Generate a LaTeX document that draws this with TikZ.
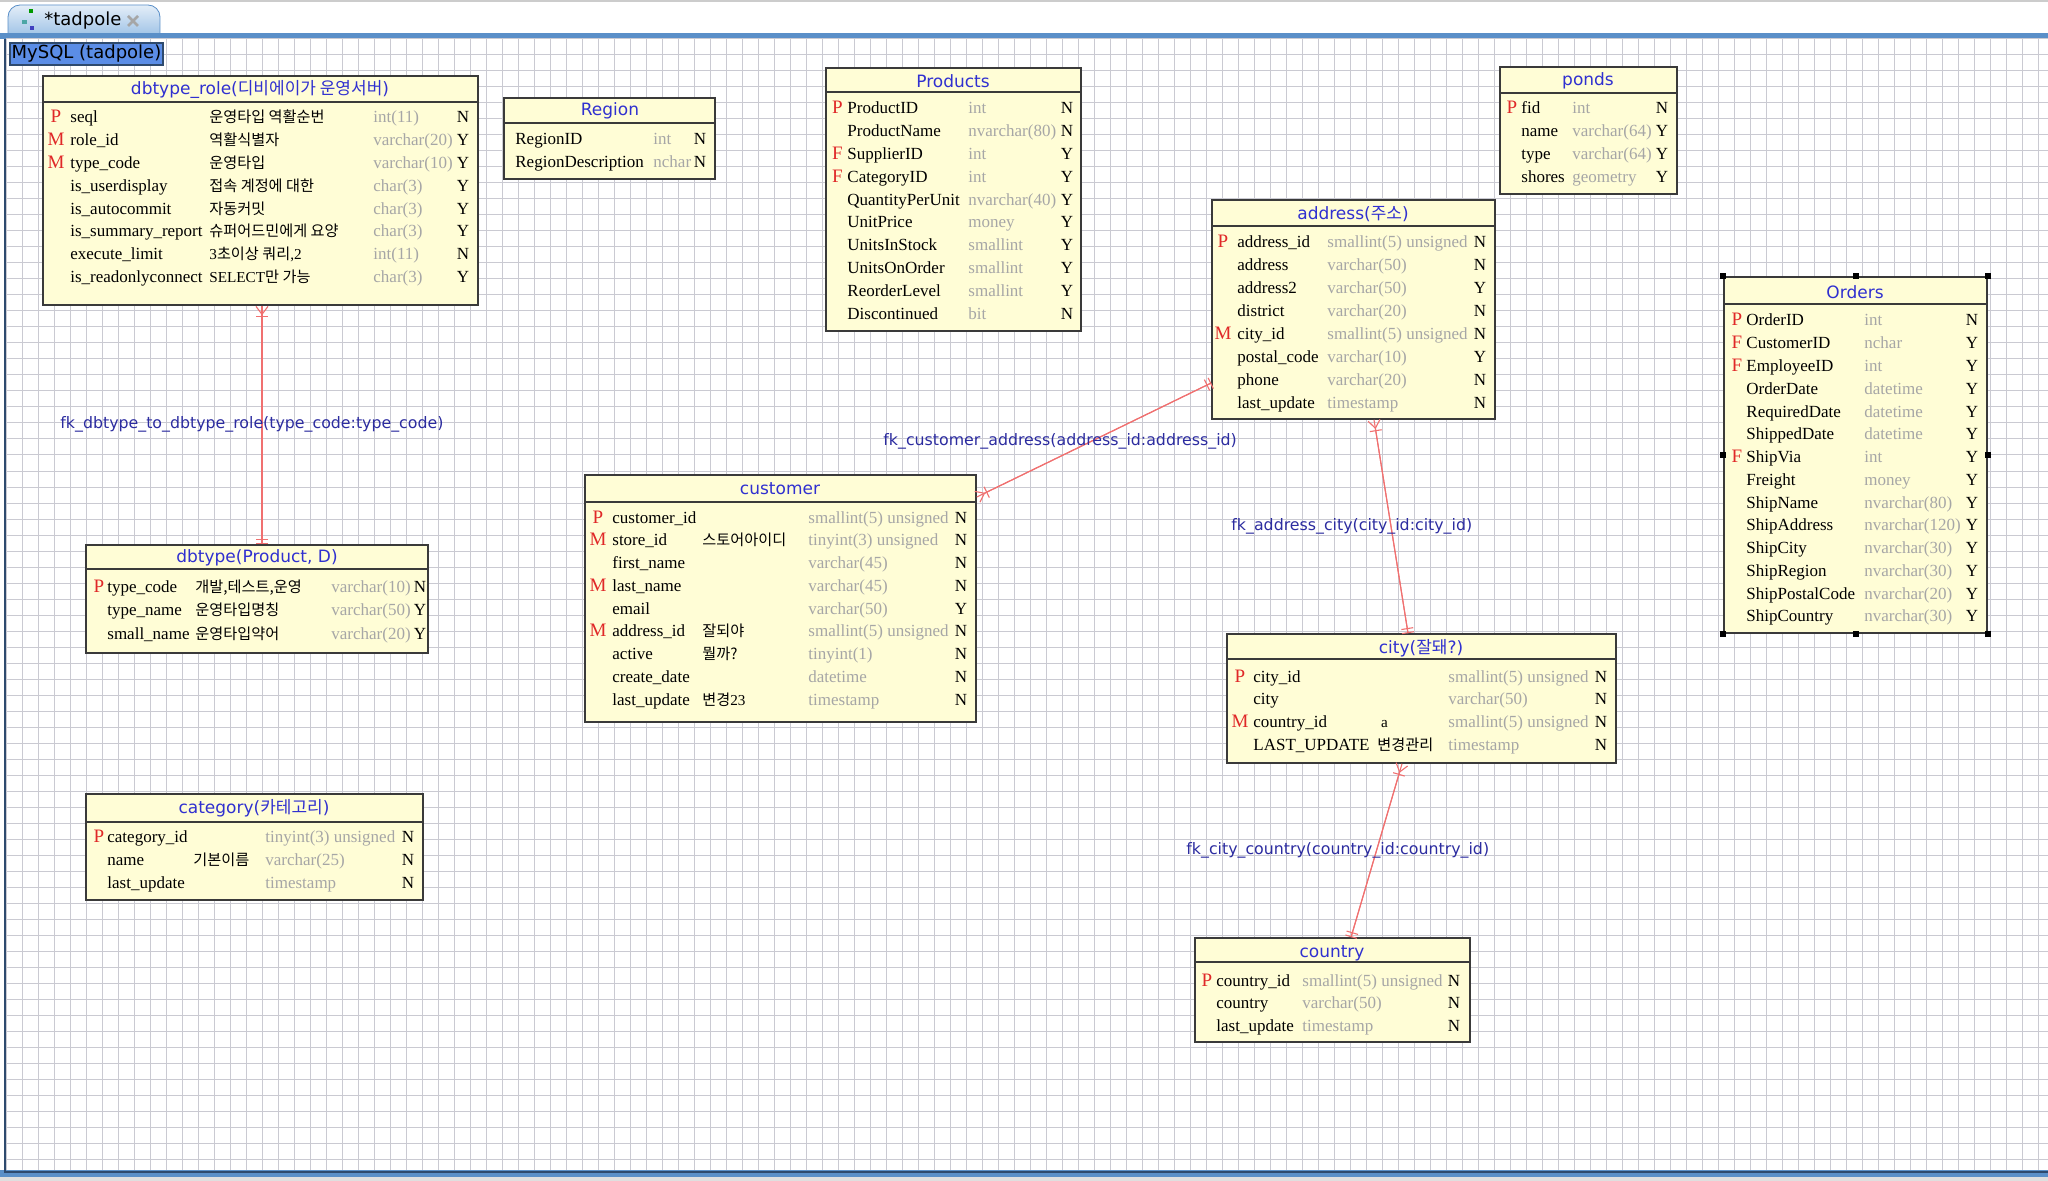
\documentclass[tikz,border=0pt]{standalone}
\usepackage{fontspec}
\setmainfont{Liberation Serif}
\setsansfont{DejaVu Sans}
\newfontfamily\kr{Noto Sans CJK KR}
\usetikzlibrary{arrows.meta,calc,fit,positioning}

\definecolor{boxfill}{HTML}{FFFDD6}
\definecolor{boxline}{HTML}{3A3A3A}
\definecolor{titleblue}{HTML}{3030D0}
\definecolor{keyred}{HTML}{E02828}
\definecolor{typegray}{HTML}{A6A6A6}
\definecolor{fkred}{HTML}{F07070}
\definecolor{fkblue}{HTML}{2C2CA0}
\definecolor{gridline}{HTML}{CACAD2}
\definecolor{tabtop}{HTML}{E4EEF8}
\definecolor{tabbot}{HTML}{9EC2E6}
\definecolor{barblue}{HTML}{5A8FC8}
\definecolor{framedark}{HTML}{2E4A6E}
\definecolor{dbblue}{HTML}{5B8DE6}

\tikzset{
  erbox/.style={draw=boxline,fill=boxfill,line width=0.8pt,inner sep=0pt},
  ertitle/.style={font=\sffamily\fontsize{8.5}{10}\selectfont,text=titleblue,inner sep=0pt},
  keymark/.style={anchor=base,font=\fontsize{9.5}{10}\selectfont,text=keyred,inner sep=0pt},
  fieldname/.style={anchor=base west,font=\fontsize{8.5}{10}\selectfont,inner sep=0pt},
  fieldnote/.style={anchor=base west,font=\kr\fontsize{7.6}{10}\selectfont,inner sep=0pt},
  fieldtype/.style={anchor=base west,font=\fontsize{8.5}{10}\selectfont,text=typegray,inner sep=0pt},
  fieldnull/.style={anchor=base,font=\fontsize{8.5}{10}\selectfont,inner sep=0pt},
  fk/.style={draw=fkred,line width=0.55pt,preaction={draw=fkred,line width=0.55pt,-}},
  fklabel/.style={anchor=west,font=\sffamily\fontsize{7.9}{10}\selectfont,text=fkblue,inner sep=0pt},
  handle/.style={fill=black,minimum size=3pt,inner sep=0pt},
  crowfoot/.tip={Bar[width=6pt,sep=0.5pt] Straight Barb[reversed,length=4pt,width=6pt]},
  onlyone/.tip={Bar[width=6pt,sep=1.5pt] Bar[width=6pt]}
}

% rows of a table: prefix, first y, row step, x of key, name, note, type, null, list
\newcommand{\errows}[9]{%
  \foreach \keyx/\namex/\notex/\typex/\nullx [count=\rowi] in {#9}{%
    \pgfmathsetmacro{\yy}{#2+(\rowi-1)*#3+5}
    \node[keymark]   (#1-k\rowi) at (#4,\yy) {\keyx};
    \node[fieldname] (#1-n\rowi) at (#5,\yy) {\namex};
    \node[fieldnote] (#1-c\rowi) at (#6,\yy) {\notex};
    \node[fieldtype] (#1-t\rowi) at (#7,\yy) {\typex};
    \node[fieldnull] (#1-u\rowi) at (#8,\yy) {\nullx};
  }}

\begin{document}
\begin{tikzpicture}[x=0.5pt,y=-0.5pt]
  \useasboundingbox (0,0) rectangle (2048,1181);
  % window
  \fill[white] (0,0) rectangle (2048,1181);
  \draw[gray!40,line width=1pt] (0,1) -- (2048,1);
  \shade[top color=tabtop,bottom color=tabbot,draw=barblue]
    (8,36) [rounded corners=6pt] -- (8,5) -- (160,5) [sharp corners] -- (160,36) -- cycle;
  \fill[green!60!black] (29,9) rectangle (33,13);
  \fill[teal!70] (22,20) rectangle (27,24);
  \fill[blue!50!gray] (30,26) rectangle (34,30);
  \node[font=\sffamily\fontsize{9}{10}\selectfont,anchor=west,inner sep=0pt] (tabname) at (44,21) {*tadpole};
  \draw[gray!70,line width=1.3pt] (128,16) -- (138,26) (128,26) -- (138,16);
  \fill[barblue] (0,33) rectangle (2048,39);
  \fill[gray!25] (0,1173) rectangle (2048,1181);
  \fill[barblue] (0,1170) rectangle (2048,1177);
  % canvas grid
  \fill[white] (6,39) rectangle (2048,1170);
  \foreach \gx in {6,22,...,2048} \draw[gridline,line width=0.5pt] (\gx,39) -- (\gx,1170);
  \foreach \gy in {39,55,...,1170} \draw[gridline,line width=0.5pt] (6,\gy) -- (2048,\gy);
  \draw[framedark,line width=1.2pt] (5,39) -- (5,1172) -- (2048,1172);
  \node[draw=framedark,fill=dbblue,line width=0.8pt,inner sep=0pt,fit={(10,43) (163,65)},
    label={[font=\sffamily\fontsize{9}{10}\selectfont,inner sep=0pt]center:MySQL (tadpole)}] (dbname) {};

  % dbtype_role
  \node[erbox,fit={(43,76) (478,305)}] (role) {};
  \draw[boxline,line width=0.8pt] (role.west |- 0,102) -- (role.east |- 0,102);
  \node[ertitle] (role-title) at (260,89) {dbtype\_role({\kr 디비에이가 운영서버})};
  \errows{role}{118}{22.8}{56}{70}{209}{373}{463}{%
    P/seql/운영타입 역활순번/int(11)/N,
    M/role\_id/역활식별자/varchar(20)/Y,
    M/type\_code/운영타입/varchar(10)/Y,
    {}/is\_userdisplay/접속 계정에 대한/char(3)/Y,
    {}/is\_autocommit/자동커밋/char(3)/Y,
    {}/is\_summary\_report/슈퍼어드민에게 요양/char(3)/Y,
    {}/execute\_limit/{\rmfamily 3}초이상 쿼리{\rmfamily ,2}/int(11)/N,
    {}/is\_readonlyconnect/{\rmfamily SELECT}만 가능/char(3)/Y}

  % Region
  \node[erbox,fit={(504,98) (715,179)}] (region) {};
  \draw[boxline,line width=0.8pt] (region.west |- 0,123) -- (region.east |- 0,123);
  \node[ertitle] (region-title) at (610,111) {Region};
  \errows{region}{140}{23}{510}{515}{600}{653}{700}{%
    {}/RegionID/{}/int/N,
    {}/RegionDescription/{}/nchar/N}

  % Products
  \node[erbox,fit={(826,68) (1081,331)}] (products) {};
  \draw[boxline,line width=0.8pt] (products.west |- 0,92) -- (products.east |- 0,92);
  \node[ertitle] (products-title) at (953,81) {Products};
  \errows{products}{109}{22.8}{837.5}{847}{950}{968}{1067}{%
    P/ProductID/{}/int/N,
    {}/ProductName/{}/nvarchar(80)/N,
    F/SupplierID/{}/int/Y,
    F/CategoryID/{}/int/Y,
    {}/QuantityPerUnit/{}/nvarchar(40)/Y,
    {}/UnitPrice/{}/money/Y,
    {}/UnitsInStock/{}/smallint/Y,
    {}/UnitsOnOrder/{}/smallint/Y,
    {}/ReorderLevel/{}/smallint/Y,
    {}/Discontinued/{}/bit/N}

  % ponds
  \node[erbox,fit={(1500,67) (1677,194)}] (ponds) {};
  \draw[boxline,line width=0.8pt] (ponds.west |- 0,93) -- (ponds.east |- 0,93);
  \node[ertitle] (ponds-title) at (1588,81) {ponds};
  \errows{ponds}{109}{23}{1512}{1521}{1560}{1572}{1662}{%
    P/fid/{}/int/N,
    {}/name/{}/varchar(64)/Y,
    {}/type/{}/varchar(64)/Y,
    {}/shores/{}/geometry/Y}

  % address
  \node[erbox,fit={(1212,200) (1495,419)}] (address) {};
  \draw[boxline,line width=0.8pt] (address.west |- 0,226) -- (address.east |- 0,226);
  \node[ertitle] (address-title) at (1353,214) {address({\kr 주소})};
  \errows{address}{243}{22.9}{1223}{1237}{1320}{1327}{1480}{%
    P/address\_id/{}/smallint(5) unsigned/N,
    {}/address/{}/varchar(50)/N,
    {}/address2/{}/varchar(50)/Y,
    {}/district/{}/varchar(20)/N,
    M/city\_id/{}/smallint(5) unsigned/N,
    {}/postal\_code/{}/varchar(10)/Y,
    {}/phone/{}/varchar(20)/N,
    {}/last\_update/{}/timestamp/N}

  % Orders (selected)
  \node[erbox,fit={(1724,277) (1987,633)}] (orders) {};
  \draw[boxline,line width=0.8pt] (orders.west |- 0,304) -- (orders.east |- 0,304);
  \node[ertitle] (orders-title) at (1855,292) {Orders};
  \errows{orders}{321}{22.76}{1737}{1746}{1850}{1864}{1972}{%
    P/OrderID/{}/int/N,
    F/CustomerID/{}/nchar/Y,
    F/EmployeeID/{}/int/Y,
    {}/OrderDate/{}/datetime/Y,
    {}/RequiredDate/{}/datetime/Y,
    {}/ShippedDate/{}/datetime/Y,
    F/ShipVia/{}/int/Y,
    {}/Freight/{}/money/Y,
    {}/ShipName/{}/nvarchar(80)/Y,
    {}/ShipAddress/{}/nvarchar(120)/Y,
    {}/ShipCity/{}/nvarchar(30)/Y,
    {}/ShipRegion/{}/nvarchar(30)/Y,
    {}/ShipPostalCode/{}/nvarchar(20)/Y,
    {}/ShipCountry/{}/nvarchar(30)/Y}
  \foreach \a [count=\j] in {north west,north,north east,east,south east,south,south west,west}
    \node[handle] (orders-h\j) at (orders.\a) {};

  % customer
  \node[erbox,fit={(585,475) (976,722)}] (customer) {};
  \draw[boxline,line width=0.8pt] (customer.west |- 0,502) -- (customer.east |- 0,502);
  \node[ertitle] (customer-title) at (780,489) {customer};
  \errows{customer}{518}{22.75}{598}{612}{702}{808}{961}{%
    P/customer\_id/{}/smallint(5) unsigned/N,
    M/store\_id/스토어아이디/tinyint(3) unsigned/N,
    {}/first\_name/{}/varchar(45)/N,
    M/last\_name/{}/varchar(45)/N,
    {}/email/{}/varchar(50)/Y,
    M/address\_id/잘되야/smallint(5) unsigned/N,
    {}/active/뭘까?/tinyint(1)/N,
    {}/create\_date/{}/datetime/N,
    {}/last\_update/변경{\rmfamily 23}/timestamp/N}

  % dbtype
  \node[erbox,fit={(86,545) (428,653)}] (dbtype) {};
  \draw[boxline,line width=0.8pt] (dbtype.west |- 0,569) -- (dbtype.east |- 0,569);
  \node[ertitle] (dbtype-title) at (257,558) {dbtype(Product, D)};
  \errows{dbtype}{587}{23.5}{99}{107}{195}{331}{420}{%
    P/type\_code/{개발,테스트,운영}/varchar(10)/N,
    {}/type\_name/운영타입명칭/varchar(50)/Y,
    {}/small\_name/운영타입약어/varchar(20)/Y}

  % category
  \node[erbox,fit={(86,794) (423,900)}] (category) {};
  \draw[boxline,line width=0.8pt] (category.west |- 0,822) -- (category.east |- 0,822);
  \node[ertitle] (category-title) at (254,808) {category({\kr 카테고리})};
  \errows{category}{837}{23}{99}{107}{193}{265}{408}{%
    P/category\_id/{}/tinyint(3) unsigned/N,
    {}/name/기본이름/varchar(25)/N,
    {}/last\_update/{}/timestamp/N}

  % city
  \node[erbox,fit={(1227,634) (1616,763)}] (city) {};
  \draw[boxline,line width=0.8pt] (city.west |- 0,659) -- (city.east |- 0,659);
  \node[ertitle] (city-title) at (1421,648) {city({\kr 잘돼}?)};
  \errows{city}{677}{22.8}{1240}{1253}{1377}{1448}{1601}{%
    P/city\_id/{}/smallint(5) unsigned/N,
    {}/city/{}/varchar(50)/N,
    M/country\_id/{\rmfamily\ a}/smallint(5) unsigned/N,
    {}/LAST\_UPDATE/변경관리/timestamp/N}

  % country
  \node[erbox,fit={(1195,938) (1470,1042)}] (country) {};
  \draw[boxline,line width=0.8pt] (country.west |- 0,962) -- (country.east |- 0,962);
  \node[ertitle] (country-title) at (1332,953) {country};
  \errows{country}{981}{22.5}{1207}{1216}{1290}{1302}{1454}{%
    P/country\_id/{}/smallint(5) unsigned/N,
    {}/country/{}/varchar(50)/N,
    {}/last\_update/{}/timestamp/N}

  % foreign keys
  \draw[fk,crowfoot-onlyone] (role.south -| 262,0) -- (dbtype.north -| 262,0);
  \draw[fk,crowfoot-onlyone] (customer.east |- 0,497) -- (address.west |- 0,383);
  \draw[fk,crowfoot-onlyone] (address.south -| 1374,0) -- (city.north -| 1408,0);
  \draw[fk,crowfoot-onlyone] (city.south -| 1402,0) -- (country.north -| 1351,0);
  \node[fklabel] (fk-role) at (60,424) {fk\_dbtype\_to\_dbtype\_role(type\_code:type\_code)};
  \node[fklabel] (fk-customer) at (883,441) {fk\_customer\_address(address\_id:address\_id)};
  \node[fklabel] (fk-address) at (1231,526) {fk\_address\_city(city\_id:city\_id)};
  \node[fklabel] (fk-city) at (1186,850) {fk\_city\_country(country\_id:country\_id)};
\end{tikzpicture}
\end{document}
